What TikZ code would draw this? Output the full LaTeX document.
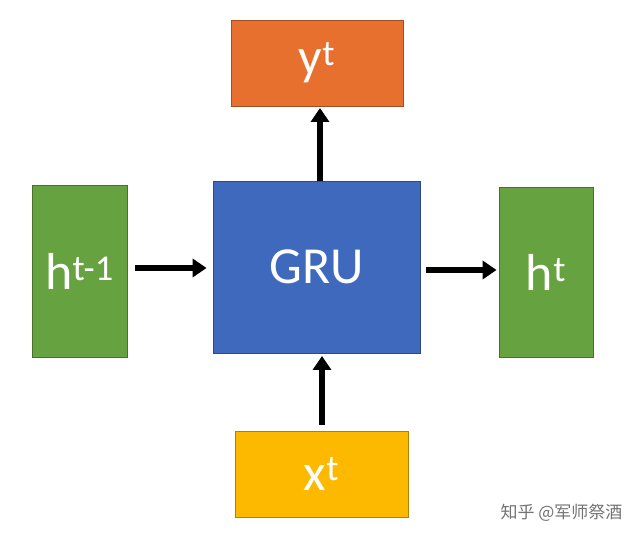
\documentclass[tikz,border=0pt]{standalone}
\usepackage{fontspec}
\setmainfont{Carlito}
\newfontfamily\cjk{Noto Sans CJK SC}
\usetikzlibrary{arrows.meta}
\definecolor{orng}{HTML}{E8702F}
\definecolor{blu}{HTML}{3F69BD}
\definecolor{grn}{HTML}{66A23F}
\definecolor{yel}{HTML}{FDB900}
\begin{document}
\begin{tikzpicture}[x=1pt,y=-1pt,
  box/.style={draw=#1!70!black,fill=#1,line width=0.8pt,text=white,font=\fontsize{52}{56}\selectfont},
  arr/.style={line width=5.5pt,-{Triangle[length=14pt,width=18pt]}}]
\useasboundingbox[fill=white] (0,0) rectangle (641,540);
\node[box=orng,minimum width=172pt,minimum height=86pt] (y) at (317,63) {y\textsuperscript{t}};
\node[box=blu,minimum width=207pt,minimum height=172pt] (g) at (316.5,267) {GRU};
\node[box=grn,minimum width=95pt,minimum height=172pt] (h0) at (79.5,271) {h\textsuperscript{t-1}};
\node[box=grn,minimum width=94pt,minimum height=170pt] (h1) at (546,272) {h\textsuperscript{t}};
\node[box=yel,minimum width=173pt,minimum height=86pt] (x) at (321.5,474) {x\textsuperscript{t}};
\draw[arr] ([xshift=8pt]h0.east |- 0,268) -- ([xshift=-6pt]g.west |- 0,268);
\draw[arr] ([xshift=6pt]g.east |- 0,270) -- ([xshift=-2pt]h1.west |- 0,270);
\draw[arr] (320,181) -- (320,108);
\draw[arr] (322,425) -- (322,356);
\node[text=black!55,font=\cjk\fontsize{17}{20}\selectfont,anchor=east] (wm) at (626,513) {知乎 @军师祭酒};
\end{tikzpicture}
\end{document}
